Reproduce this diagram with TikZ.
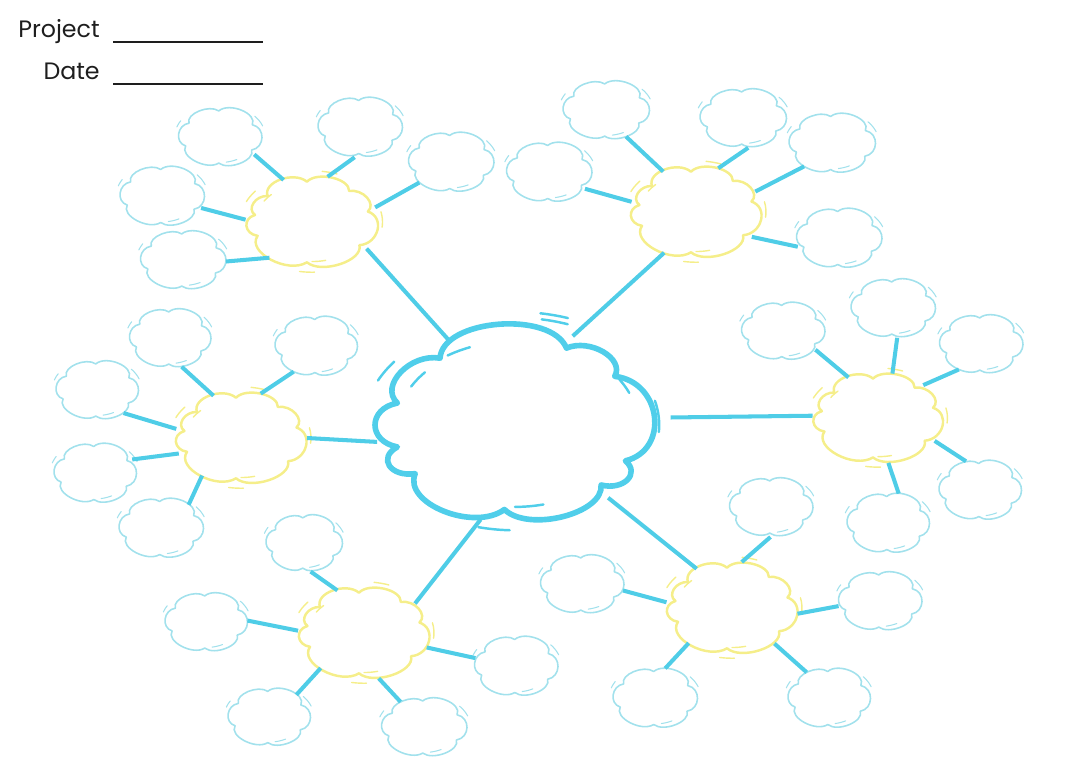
\documentclass[tikz,border=0pt]{standalone}
\usepackage{fontspec}
\setmainfont{Poppins}
\usetikzlibrary{shapes.geometric}
\definecolor{conn}{HTML}{4FCDE7}
\definecolor{maincl}{HTML}{50CEEA}
\definecolor{yel}{HTML}{F5EE8A}
\definecolor{sky}{HTML}{A2E1EC}
\definecolor{ink}{HTML}{1E1E1E}
\tikzset{
  cnode/.style={ellipse, draw=none, inner sep=0pt, outer sep=0pt},
  link/.style={draw=conn, line width=2.3pt},
  mainline/.style={draw=maincl, line width=3.2pt, line join=round},
  maindeco/.style={draw=maincl, line width=1.4pt, line cap=round},
  yelline/.style={draw=yel, line width=1.4pt, line join=round},
  yeldeco/.style={draw=yel, line width=0.8pt, line cap=round},
  smallline/.style={draw=sky, line width=0.9pt, line join=round},
  smalldeco/.style={draw=sky, line width=0.6pt, line cap=round},
  label/.style={font=\fontsize{13.5}{16}\selectfont, text=ink, anchor=base east, inner sep=0pt},
  rule/.style={draw=ink, line width=1.1pt}
}
% cloud outline from a list of valley angles and bump peak radii
\newcommand\bumps[3]{\draw[#1] (#2:0.87) foreach \va/\vb/\vp [evaluate={\vc=(\vp-0.2175*cos((\vb-\va)/2))/(0.75*cos(0.3*(\vb-\va)));}] in {#3} { .. controls ({\va+0.2*(\vb-\va)}:\vc) and ({\vb-0.2*(\vb-\va)}:\vc) .. (\vb:0.87) } -- cycle;}
\newcommand\deco[4]{\draw[#1] plot[domain=#2:#3, samples=9, smooth, variable=\t] (\t:#4);}
\newcommand\cloudmain{%
  \bumps{mainline}{-165}{-165/-145/0.99, -145/-95/1.02, -95/-45/1.0, -45/-25/0.98, -25/35/1.0, 35/65/0.98, 65/128/1.04, 128/165/0.98, 165/195/1.0}
  \deco{maindeco}{70}{80}{1.1}\deco{maindeco}{71}{81}{1.16}
  \deco{maindeco}{143}{155}{1.08}\deco{maindeco}{-4}{14}{1.03}
  \deco{maindeco}{-104}{-92}{1.08}
  \deco{maindeco}{140}{152}{0.84}\deco{maindeco}{112}{124}{0.86}
  \deco{maindeco}{22}{32}{0.88}\deco{maindeco}{-90}{-76}{0.84}}
\newcommand\cloudyel{%
  \bumps{yelline}{-160}{-160/-95/1.02, -95/-35/1.0, -35/15/1.0, 15/50/0.98, 50/95/1.0, 95/140/1.03, 140/170/0.97, 170/200/0.99}
  \deco{yeldeco}{70}{82}{1.1}\deco{yeldeco}{142}{156}{1.08}
  \deco{yeldeco}{-6}{12}{1.06}\deco{yeldeco}{-100}{-88}{1.08}
  \deco{yeldeco}{136}{148}{0.85}\deco{yeldeco}{-90}{-76}{0.85}}
\newcommand\cloudsmall{%
  \bumps{smallline}{-30}{-30/28/1.0, 28/92/1.03, 92/148/1.0, 148/200/0.99, 200/268/1.0, 268/330/1.0}
  \deco{smalldeco}{20}{40}{1.08}\deco{smalldeco}{150}{162}{1.08}
  \deco{smalldeco}{-80}{-62}{0.85}}
\newcommand\cloudat[6]{%
  \node[cnode, minimum width={#4*0.02cm}, minimum height={#5*0.02cm}] (#1) at (#2,#3) {};
  \begin{scope}[shift={(#1.center)}, xscale=#4/2, yscale=-#5/2]
    \csname cloud#6\endcsname
  \end{scope}}
\begin{document}
\begin{tikzpicture}[x=0.02cm, y=-0.02cm]
\useasboundingbox (0,0) rectangle (1080,764);
% header
\node[label] (proj) at (100,37) {Project};
\node[label] (date) at (100,79) {Date};
\coordinate (p1) at (113,42); \coordinate (p2) at (263,42);
\coordinate (d1) at (113,84); \coordinate (d2) at (263,84);
\draw[rule] (p1) -- (p2);
\draw[rule] (d1) -- (d2);
% main cloud
\cloudat{m}{515}{425}{280}{195}{main}
% yellow clouds
\cloudat{y1}{312}{222}{133}{93}{yel}
\cloudat{y2}{696}{212}{132}{93}{yel}
\cloudat{y3}{241}{438}{132}{93}{yel}
\cloudat{y4}{878}{418}{131}{91}{yel}
\cloudat{y5}{364}{633}{132}{93}{yel}
\cloudat{y6}{732}{608}{132}{93}{yel}
% small clouds
\cloudat{a1}{220}{137}{84}{60}{small}
\cloudat{a2}{360}{127}{85}{61}{small}
\cloudat{a3}{451}{162}{86}{61}{small}
\cloudat{a4}{162}{196}{85}{61}{small}
\cloudat{a5}{183}{260}{86}{60}{small}
\cloudat{b1}{606}{110}{87}{60}{small}
\cloudat{b2}{549}{172}{86}{61}{small}
\cloudat{b3}{743}{118}{87}{60}{small}
\cloudat{b4}{832}{143}{87}{61}{small}
\cloudat{b5}{839}{238}{86}{61}{small}
\cloudat{c1}{170}{338}{82}{60}{small}
\cloudat{c2}{316}{346}{83}{61}{small}
\cloudat{c3}{97}{390}{83}{60}{small}
\cloudat{c4}{95}{473}{83}{61}{small}
\cloudat{c5}{161}{528}{85}{61}{small}
\cloudat{d1}{783}{331}{84}{59}{small}
\cloudat{d2}{893}{308}{85}{60}{small}
\cloudat{d3}{981}{344}{84}{60}{small}
\cloudat{d4}{980}{490}{83}{61}{small}
\cloudat{d5}{888}{523}{83}{61}{small}
\cloudat{e1}{304}{543}{77}{58}{small}
\cloudat{e2}{206}{622}{83}{60}{small}
\cloudat{e3}{516}{666}{84}{61}{small}
\cloudat{e4}{269}{717}{83}{59}{small}
\cloudat{e5}{424}{727}{86}{60}{small}
\cloudat{f1}{771}{507}{84}{60}{small}
\cloudat{f2}{582}{584}{84}{60}{small}
\cloudat{f3}{880}{601}{84}{60}{small}
\cloudat{f4}{655}{698}{85}{61}{small}
\cloudat{f5}{829}{698}{83}{61}{small}
% connectors main
\draw[link] (m.128.6) -- (y1.-26.6);
\draw[link] (m.57.1) -- (y2.-128);
\draw[link, shorten <=0.32cm] (m.3.6) -- (y4.178.6);
\draw[link] (m.-38.8) -- (y6.132.6);
\draw[link] (m.-110) -- (y5.30.1);
\draw[link] (m.187) -- (y3.0.8);
% y1
\draw[link] (y1.124.3) -- (a1.-27.3);
\draw[link] (y1.71.6) -- (a2.-100.6);
\draw[link] (y1.13.2) -- (a3.-147.4);
\draw[link] (y1.178.3) -- (a4.-17.1);
\draw[link] (y1.-140.3) -- (a5.-2.4);
% y2
\draw[link] (y2.129.5) -- (b1.-53.4);
\draw[link] (y2.63.4) -- (b3.-80.8);
\draw[link] (y2.19.4) -- (b4.-140.6);
\draw[link] (y2.171.2) -- (b2.-25.9);
\draw[link] (y2.-24.8) -- (b5.-168);
% y3
\draw[link] (y3.123.1) -- (c1.-68.8);
\draw[link] (y3.66.4) -- (c2.-131.5);
\draw[link] (y3.172.3) -- (c3.-41.9);
\draw[link] (y3.-166) -- (c4.20.1);
\draw[link] (y3.-136.5) -- (c5.40);
% y4
\draw[link] (y4.126.2) -- (d1.-30.5);
\draw[link] (y4.72.6) -- (d2.-82.1);
\draw[link] (y4.36.7) -- (d3.-131.6);
\draw[link] (y4.-22.2) -- (d4.116.6);
\draw[link] (y4.-77.9) -- (d5.70.9);
% y5
\draw[link] (y5.122.7) -- (e1.-77);
\draw[link] (y5.178.3) -- (e2.2.4);
\draw[link] (y5.-13.2) -- (e3.169.7);
\draw[link] (y5.-141.5) -- (e4.39.2);
\draw[link] (y5.-72) -- (e5.133.6);
% y6
\draw[link] (y6.78.2) -- (f1.-91.6);
\draw[link] (y6.175.7) -- (f2.-9.2);
\draw[link] (y6.-5.5) -- (f3.-173.8);
\draw[link] (y6.-141.2) -- (f4.71.6);
\draw[link] (y6.-40.9) -- (f5.131.3);
\end{tikzpicture}
\end{document}
